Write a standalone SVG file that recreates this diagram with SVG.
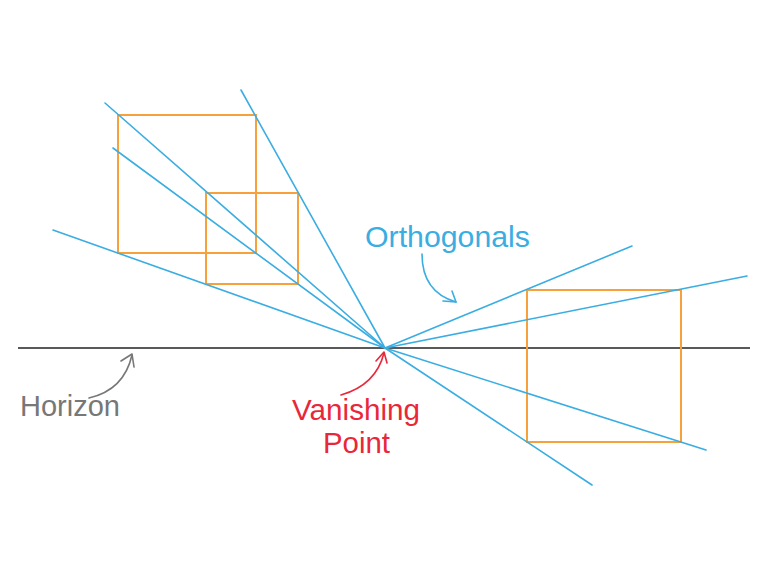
<svg xmlns="http://www.w3.org/2000/svg" width="768" height="576" viewBox="0 0 768 576">
<style>
.o{stroke:#3aade2;stroke-width:1.6;fill:none;stroke-linecap:round}
.sq{stroke:#f6a13b;stroke-width:2;fill:none}
.t{font-family:"Liberation Sans",Arial,sans-serif;font-size:29px}
.a{fill:none;stroke-width:1.6;stroke-linecap:round;stroke-linejoin:round}
</style>
<rect width="768" height="576" fill="#fff"/>
<g id="horizon"><line x1="18" y1="348" x2="750" y2="348" stroke="#222" stroke-width="1.6"/></g>
<g id="square-big"><rect class="sq" x="118" y="115" width="138" height="138"/></g>
<g id="square-small"><rect class="sq" x="206" y="193" width="92" height="91"/></g>
<g id="square-right"><rect class="sq" x="527" y="290" width="154" height="152"/></g>
<g id="connectors">
<line class="o" x1="105" y1="103" x2="385" y2="348"/>
<line class="o" x1="113" y1="148" x2="385" y2="348"/>
<line class="o" x1="241" y1="90" x2="385" y2="348"/>
<line class="o" x1="53" y1="230" x2="385" y2="348"/>
<line class="o" x1="632" y1="246" x2="385" y2="348"/>
<line class="o" x1="747" y1="276" x2="385" y2="348"/>
<line class="o" x1="706" y1="450" x2="385" y2="348"/>
<line class="o" x1="592" y1="485" x2="385" y2="348"/>
<path class="a" d="M341 395 Q376 385 384 353" stroke="#e8283a"/>
<path class="a" d="M376 361 L384 352 L387 363" stroke="#e8283a"/>
<path class="a" d="M89 398 Q124 390 132 355" stroke="#777"/>
<path class="a" d="M121 361 L132 354 L134 367" stroke="#777"/>
<path class="a" d="M422 254 Q422 292 456 302" stroke="#3aade2"/>
<path class="a" d="M443 301 L456 302 L452 291" stroke="#3aade2"/>
</g>
<g id="label-orthogonals"><text class="t" x="365" y="247" fill="#3aade2" textLength="165" lengthAdjust="spacingAndGlyphs">Orthogonals</text></g>
<g id="label-horizon"><text class="t" x="20" y="416" fill="#777" textLength="100" lengthAdjust="spacingAndGlyphs">Horizon</text></g>
<g id="label-vp"><text class="t" x="292" y="420" fill="#e8283a" textLength="128" lengthAdjust="spacingAndGlyphs">Vanishing</text>
<text class="t" x="323" y="453" fill="#e8283a" textLength="67" lengthAdjust="spacingAndGlyphs">Point</text></g>
</svg>
